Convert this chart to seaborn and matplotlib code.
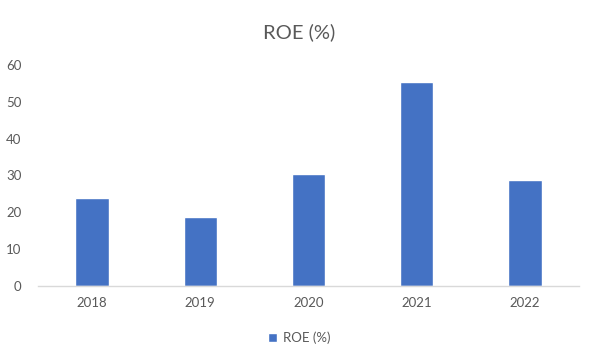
import pandas as pd
import seaborn as sns
import matplotlib.pyplot as plt

years = ["2018", "2019", "2020", "2021", "2022"]
roe = [23.9, 18.7, 30.4, 55.4, 28.8]
series_name = "ROE (%)"

sns.set_theme(style="white")
plt.rcParams['font.family'] = ['Lato', 'DejaVu Sans']

df = pd.DataFrame({"year": years, "roe": roe, "series": series_name})

fig = plt.figure(figsize=(5.98, 3.62), dpi=100)
ax = fig.add_axes([38 / 598, 1 - 286 / 362, (579 - 38) / 598, (286 - 65) / 362])

sns.barplot(data=df, x="year", y="roe", hue="series", palette=["#4472C4"],
            width=0.31, saturation=1, ax=ax, legend=True)

ax.set_ylim(0, 60)
ax.set_yticks(range(0, 61, 10))
ax.set_xlim(-0.5, len(years) - 0.5)
ax.set_xlabel("")
ax.set_ylabel("")
ax.tick_params(axis="both", length=0, labelsize=9.5, colors="#595959")
ax.tick_params(axis="y", pad=12)
ax.tick_params(axis="x", pad=8)
for side in ["top", "right", "left"]:
    ax.spines[side].set_visible(False)
ax.spines["bottom"].set_color("#d9d9d9")
ax.spines["bottom"].set_linewidth(1)

fig.text(0.5, 1 - 32 / 362, "ROE (%)", ha="center", va="center",
         fontsize=14.5, color="#595959")

ax.get_legend().remove()
fig.legend(*ax.get_legend_handles_labels(), loc="center",
           bbox_to_anchor=(0.5, 1 - 338 / 362), frameon=False,
           fontsize=9.5, labelcolor="#595959", handlelength=0.7,
           handleheight=0.7, handletextpad=0.4)

fig.savefig("out.png", dpi=100)
